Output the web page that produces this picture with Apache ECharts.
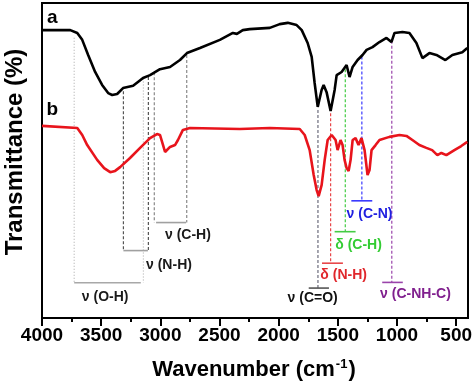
<!DOCTYPE html>
<html>
<head>
<meta charset="utf-8">
<script src="https://cdn.jsdelivr.net/npm/echarts@6/dist/echarts.min.js"></script>
<style>html,body{margin:0;padding:0;background:#fff;}#c{width:474px;height:388px;}</style>
</head>
<body>
<div id="c"></div>
<script>
// ---- curve a (black) ----
const wavenumberA = [4000,3761,3702,3660,3610,3551,3492,3441,3407,3365,3315,3230,3146,3087,3003,2918,2834,2775,2665,2497,2387,2353,2303,2244,2075,1991,1923,1848,1805,1755,1721,1696,1670,1637,1620,1595,1561,1527,1510,1468,1426,1401,1375,1333,1291,1257,1207,1148,1089,1047,1021,954,895,836,785,726,667,591,532,448,406];
const transA = [91.4,91.4,90.5,88.3,83.5,78.1,74.0,71.4,70.8,71.1,73.0,73.7,76.2,77.1,79.0,79.7,81.9,84.1,85.7,88.3,90.5,90.2,91.4,91.7,92.1,93.3,93.7,93.0,91.4,87.3,82.9,74.6,67.0,72.4,74.0,71.7,65.7,72.4,77.1,78.1,80.3,76.5,79.7,81.9,83.5,85.1,86.0,87.6,88.9,87.6,90.5,90.8,90.5,87.3,82.5,84.1,83.5,81.9,83.5,84.4,85.7];
// ---- curve b (red) ----
const wavenumberB = [4000,3702,3660,3618,3534,3475,3424,3382,3340,3256,3171,3087,3028,3003,2977,2960,2918,2876,2851,2809,2750,2328,2075,1822,1780,1738,1704,1679,1662,1637,1611,1586,1552,1519,1502,1477,1460,1443,1426,1409,1392,1375,1350,1325,1300,1274,1249,1232,1215,1181,1148,1064,979,920,870,811,752,703,659,625,583,515,457,406];
const transB = [61.0,60.3,58.1,54.9,50.2,47.6,46.3,46.7,47.9,50.8,54.0,57.1,58.4,58.1,54.9,52.7,54.3,54.9,56.5,59.7,60.3,60.0,60.3,60.0,58.1,53.3,45.4,40.6,38.7,42.2,50.2,56.5,58.1,56.5,53.3,56.5,54.9,50.2,47.6,46.7,50.2,56.5,57.1,54.9,57.1,53.3,45.4,47.0,53.3,54.9,56.5,57.5,58.1,57.8,56.5,54.9,54.0,53.3,51.7,52.4,51.7,53.3,54.6,55.9];
// ---- curve tags ----
const curveTags = ['a', 'b'];
const tagW = [3913, 3913];
const tagT = [95.2, 66.0];
// ---- x ticks ----
const majorTicks = [4000,3500,3000,2500,2000,1500,1000,500];
const minorTicks = [3750,3250,2750,2250,1750,1250,750];
// ---- band assignment guides (dashed verticals) ----
const guideW      = [3728, 3143, 3312, 3101, 3051, 2777, 1668, 1561, 1437, 1297, 1044];
const guideTop    = [89.0, 76.0, 72.0, 76.5, 78.0, 83.5, 66.0, 65.0, 79.0, 83.0, 88.0];
const guideBottom = [11.2, 11.2, 21.4, 21.4, 30.3, 30.3, 9.5, 17.4, 27.4, 37.2, 11.3];
const guideGroup  = [0, 0, 1, 1, 2, 2, 3, 4, 5, 6, 7];
// ---- brackets ----
const bracketFrom  = [3728, 3312, 3036, 1746, 1634, 1527, 1386, 1125];
const bracketTo    = [3165, 3105, 2783, 1575, 1457, 1350, 1209, 951];
const bracketLevel = [11.2, 21.4, 30.3, 9.5, 17.4, 27.4, 37.2, 11.3];
// ---- band labels ----
const peakLabels = ['ν (O-H)', 'ν (N-H)', 'ν (C-H)', 'ν (C=O)', 'δ (N-H)', 'δ (C-H)', 'ν (C-N)', 'ν (C-NH-C)'];
const labelW = [3466, 2927, 2767, 1713, 1451, 1325, 1232, 844];
const labelT = [6.7, 16.8, 26.3, 6.3, 13.7, 23.2, 33.0, 7.6];

// styles per group
const groupStyle = [
  {guide:'#b5b5b5', dash:[1,2], bracket:'#a8a8a8', text:'#1a1a1a'},
  {guide:'#555555', dash:[3,2], bracket:'#a0a0a0', text:'#1a1a1a'},
  {guide:'#8a8a8a', dash:[3,2], bracket:'#a0a0a0', text:'#1a1a1a'},
  {guide:'#6c6c7c', dash:[3,2], bracket:'#555555', text:'#111111'},
  {guide:'#e8474a', dash:[3,2], bracket:'#e8474a', text:'#e0262b'},
  {guide:'#44cc44', dash:[3,2], bracket:'#44cc44', text:'#33cc33'},
  {guide:'#3a3aff', dash:[3,2], bracket:'#3a3aff', text:'#2020e0'},
  {guide:'#9a44aa', dash:[3,2], bracket:'#9a44aa', text:'#80208e'}
];
const FONT = '"Liberation Sans", Arial, sans-serif';

const chart = echarts.init(document.getElementById('c'), null, {renderer:'canvas'});
const zip = (a, b) => a.map((v, i) => [v, b[i]]);

chart.setOption({
  animation: false,
  grid: {left: 42, right: 6, top: 3, bottom: 70, show: true, borderColor: '#000', borderWidth: 2,
         containLabel: false, outerBoundsMode: 'none'},
  xAxis: [{
    type: 'value', min: 400, max: 4000, inverse: true, position: 'bottom',
    axisLine: {show: true, lineStyle: {color: '#000', width: 2}},
    axisTick: {show: true, customValues: majorTicks, length: 8, inside: false, lineStyle: {color: '#000', width: 2}},
    axisLabel: {show: true, customValues: majorTicks, margin: 8, color: '#000', fontSize: 19, fontWeight: 'bold', fontFamily: FONT,
                formatter: v => String(v), hideOverlap: false},
    splitLine: {show: false}
  }, {
    type: 'value', min: 400, max: 4000, inverse: true, position: 'bottom',
    axisLine: {show: false},
    axisTick: {show: true, customValues: minorTicks, length: 4, lineStyle: {color: '#000', width: 2}},
    axisLabel: {show: false},
    splitLine: {show: false}
  }],
  yAxis: {
    type: 'value', min: 0, max: 100,
    axisLine: {show: true, lineStyle: {color: '#000', width: 2}},
    axisTick: {show: false}, axisLabel: {show: false}, splitLine: {show: false}
  },
  graphic: [
    {type: 'text', x: 15, y: 152, rotation: Math.PI / 2,
     style: {text: 'Transmittance (%)', fill: '#000', font: 'bold 24px ' + FONT, align: 'center', verticalAlign: 'middle'}},
    {type: 'text', x: 254, y: 370,
     style: {text: 'Wavenumber (cm{sup|-1})', fill: '#000', font: 'bold 22px ' + FONT, align: 'center', verticalAlign: 'middle',
       rich: {sup: {fontSize: 13, fontWeight: 'bold', fontFamily: FONT, fill: '#000', padding: [0, 1, 12, 1]}}}}
  ],
  series: [
    {
      type: 'custom', name: 'guides', z: 1, silent: true, clip: false,
      data: guideW.map((w, i) => [w, guideTop[i], guideBottom[i], guideGroup[i]]),
      renderItem: function (params, api) {
        const p1 = api.coord([api.value(0), api.value(1)]);
        const p2 = api.coord([api.value(0), api.value(2)]);
        const s = groupStyle[api.value(3)];
        return {type: 'line', shape: {x1: p1[0], y1: p1[1], x2: p2[0], y2: p2[1]},
                style: {stroke: s.guide, lineWidth: 1.2, lineDash: s.dash}};
      }
    },
    {
      type: 'custom', name: 'brackets', z: 1, silent: true, clip: false,
      data: bracketFrom.map((w, i) => [w, bracketTo[i], bracketLevel[i], i]),
      renderItem: function (params, api) {
        const p1 = api.coord([api.value(0), api.value(2)]);
        const p2 = api.coord([api.value(1), api.value(2)]);
        const s = groupStyle[api.value(3)];
        return {type: 'line', shape: {x1: p1[0], y1: p1[1], x2: p2[0], y2: p2[1]},
                style: {stroke: s.bracket, lineWidth: 1.6}};
      }
    },
    {
      type: 'custom', name: 'labels', z: 3, silent: true, clip: false,
      data: labelW.map((w, i) => [w, labelT[i], i]),
      renderItem: function (params, api) {
        const p = api.coord([api.value(0), api.value(1)]);
        const i = api.value(2);
        return {type: 'text', x: p[0], y: p[1],
                style: {text: peakLabels[i], fill: groupStyle[i].text, font: 'bold 14px ' + FONT, align: 'center', verticalAlign: 'middle'}};
      }
    },
    {
      type: 'custom', name: 'tags', z: 3, silent: true, clip: false,
      data: tagW.map((w, i) => [w, tagT[i], i]),
      renderItem: function (params, api) {
        const p = api.coord([api.value(0), api.value(1)]);
        return {type: 'text', x: p[0], y: p[1],
                style: {text: curveTags[api.value(2)], fill: '#000', font: 'bold 19px ' + FONT, align: 'center', verticalAlign: 'middle'}};
      }
    },
    {
      type: 'line', name: 'a', z: 2, data: zip(wavenumberA, transA), showSymbol: false, symbol: 'none',
      lineStyle: {color: '#000', width: 2.6}, smooth: false
    },
    {
      type: 'line', name: 'b', z: 2, data: zip(wavenumberB, transB), showSymbol: false, symbol: 'none',
      lineStyle: {color: '#e8141c', width: 2.6}, smooth: false
    }
  ]
});
</script>
</body>
</html>
